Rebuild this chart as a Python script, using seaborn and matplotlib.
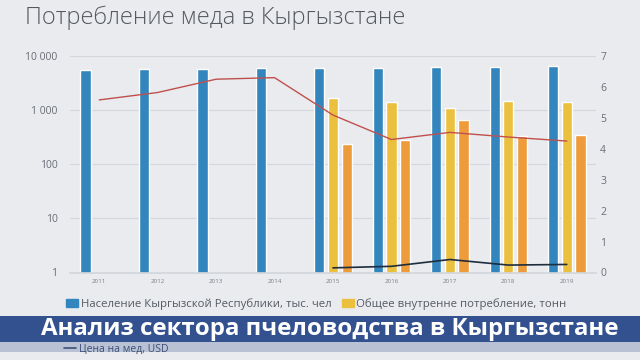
import numpy as np
import pandas as pd
import matplotlib
matplotlib.use("Agg")
import matplotlib.pyplot as plt
import seaborn as sns
from matplotlib.patches import Patch, Rectangle
from matplotlib.lines import Line2D
from matplotlib.ticker import FixedLocator, FixedFormatter

years = ["2011", "2012", "2013", "2014", "2015", "2016", "2017", "2018", "2019"]
population = [5550, 5650, 5770, 5890, 6010, 6130, 6250, 6390, 6520]
consumption = [np.nan, np.nan, np.nan, np.nan, 1645, 1425, 1105, 1470, 1390]
export_share = [np.nan, np.nan, np.nan, np.nan, 241, 286, 653, 331, 340]
per_capita = [5.58, 5.82, 6.25, 6.30, 5.09, 4.30, 4.53, 4.38, 4.25]
price = [np.nan, np.nan, np.nan, np.nan, 0.15, 0.20, 0.42, 0.24, 0.26]

series_names = ["Население Кыргызской Республики, тыс. чел",
                "Общее внутренне потребление, тонн",
                "Доля экспорта в производстве, %"]
line_names = ["Потребление на душу населения, кг", "Цена на мед, USD"]
left_ticks = [1, 10, 100, 1000, 10000]
left_labels = ["1", "10", "100", "1 000", "10 000"]
right_ticks = [0, 1, 2, 3, 4, 5, 6, 7]

title = "Потребление меда в Кыргызстане"
banner = "Анализ сектора пчеловодства в Кыргызстане"

colors = ["#3386BD", "#EBC03E", "#EE9B3B"]
red = "#C0504D"
dark = "#1F2D3D"

df = pd.DataFrame({
    "year": years * 3,
    "value": population + consumption + export_share,
    "series": [series_names[0]] * 9 + [series_names[1]] * 9 + [series_names[2]] * 9,
})

sns.set_theme(style="white")
plt.rcParams["font.family"] = ["Open Sans", "DejaVu Sans"]

fig = plt.figure(figsize=(6.4, 3.6), dpi=100)
fig.patch.set_facecolor("#E9EBEF")
ax = fig.add_axes([70 / 640, 1 - 272.5 / 360, 526 / 640, 216.5 / 360])
ax.set_facecolor("none")

sns.barplot(data=df, x="year", y="value", hue="series", hue_order=series_names,
            order=years, palette=colors, width=0.7, gap=0.25, ax=ax,
            legend=False, errorbar=None, saturation=1, log_scale=True)
ax.set_yscale("log")
ax.set_ylim(1, 10000)
ax.set_xlim(-0.5, 8.5)
ax.yaxis.set_major_locator(FixedLocator(left_ticks))
ax.yaxis.set_major_formatter(FixedFormatter(left_labels))
ax.yaxis.set_minor_locator(FixedLocator([]))
ax.grid(axis="y", color="#D3D6DB", linewidth=0.8)
ax.set_axisbelow(True)
for s in ax.spines.values():
    s.set_visible(False)
ax.spines["bottom"].set_visible(True)
ax.spines["bottom"].set_color("#D3D6DB")
ax.set_xlabel("")
ax.set_ylabel("")
ax.tick_params(axis="y", labelsize=7.5, colors="#6A6E75", length=0, pad=9)
ax.tick_params(axis="x", labelsize=4.5, colors="#7A7E85", length=0, pad=5)

ax2 = ax.twinx()
xs = np.arange(len(years))
sns.lineplot(x=xs, y=per_capita, ax=ax2, color=red, linewidth=1.0)
sns.lineplot(x=xs, y=price, ax=ax2, color=dark, linewidth=1.2)
ax2.set_ylim(0, 7)
ax2.set_xlim(-0.5, 8.5)
ax2.set_yticks(right_ticks)
for s in ax2.spines.values():
    s.set_visible(False)
ax2.tick_params(axis="y", labelsize=7.5, colors="#6A6E75", length=0, pad=3)
ax2.grid(False)

fig.text(25 / 640, 1 - 18 / 360, title, fontsize=17, color="#55595F",
         va="center", ha="left", fontweight="light")

handles = [Patch(color=colors[0]), Patch(color=colors[1])]
labels = [series_names[0], series_names[1]]
fig.legend(handles, labels, loc="center left", bbox_to_anchor=(58 / 640, 1 - 304 / 360),
           ncol=2, frameon=False, fontsize=8.2, labelcolor="#555A62",
           handlelength=1.1, handleheight=0.7, handletextpad=0.2,
           columnspacing=0.9, borderpad=0.2)

fig.patches.append(Rectangle((0, 1 - 342 / 360), 1, 26 / 360, transform=fig.transFigure,
                             facecolor="#33508F", edgecolor="none", zorder=10))
fig.patches.append(Rectangle((0, 1 - 352 / 360), 1, 10 / 360, transform=fig.transFigure,
                             facecolor="#9AA7C4", edgecolor="none", alpha=0.6, zorder=10))
fig.text(330 / 640, 1 - 329 / 360, banner, fontsize=17.3, color="white",
         fontweight="bold", ha="center", va="center", zorder=11)

leg2 = fig.legend([Line2D([], [], color="#3D4F78", linewidth=1.2)], [line_names[1]],
                  loc="center left", bbox_to_anchor=(58 / 640, 1 - 349 / 360),
                  frameon=False, fontsize=7.5, labelcolor="#3D4F78",
                  handlelength=1.1, handletextpad=0.3, borderpad=0.1)
leg2.set_zorder(12)

fig.savefig("out.png", dpi=100, facecolor=fig.get_facecolor())
